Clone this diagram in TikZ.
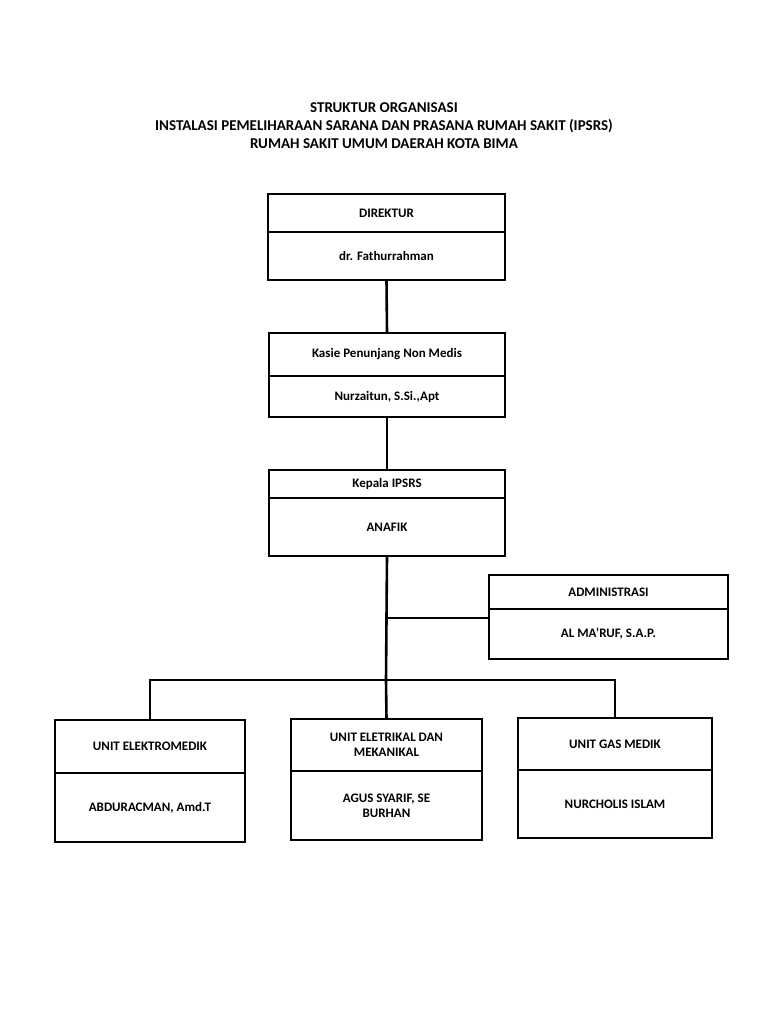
\documentclass[tikz,border=0pt]{standalone}
\usepackage{fontspec}
\setmainfont{Carlito}
\begin{document}
\begin{tikzpicture}[x=1pt,y=-1pt,
  bx/.style={draw,line width=1.6pt},
  ln/.style={line width=2.6pt},
  t/.style={font=\bfseries\fontsize{13}{15}\selectfont,align=center}]
\useasboundingbox (0,0) rectangle (768,1024);
\node[t,font=\bfseries\fontsize{15}{18}\selectfont] (title) at (384,126) {STRUKTUR ORGANISASI\\INSTALASI PEMELIHARAAN SARANA DAN PRASANA RUMAH SAKIT (IPSRS)\\RUMAH SAKIT UMUM DAERAH KOTA BIMA};
% boxes
\newcommand{\ob}[8]{%
 \draw[bx] (#2,#3) rectangle (#4,#5); \draw[bx] (#2,#6)--(#4,#6);
 \coordinate (#1) at ({(#2+#4)/2},#3); \coordinate (#1b) at ({(#2+#4)/2},#5);
 \node[t] (#1t) at ({(#2+#4)/2},{(#3+#6)/2}) {#7};
 \node[t] (#1n) at ({(#2+#4)/2},{(#6+#5)/2}) {#8};}
\ob{d}{268}{194}{505}{280}{232}{DIREKTUR}{dr. Fathurrahman}
\ob{k}{269}{333}{505}{417}{376}{Kasie Penunjang Non Medis}{Nurzaitun, S.Si.,Apt}
\ob{p}{269}{470}{505}{556}{498}{Kepala IPSRS}{ANAFIK}
\ob{a}{489}{575}{728}{659}{609}{ADMINISTRASI}{AL MA'RUF, S.A.P.}
\ob{u}{55}{720}{245}{842}{773}{UNIT ELEKTROMEDIK}{ABDURACMAN, Amd.T}
\ob{v}{291}{719}{482}{840}{771}{UNIT ELETRIKAL DAN\\MEKANIKAL}{AGUS SYARIF, SE\\BURHAN}
\ob{w}{518}{718}{712}{838}{770}{UNIT GAS MEDIK}{NURCHOLIS ISLAM}
\coordinate (ad) at (489,618);
\coordinate (h) at (386,680);
\draw[ln] (db)--(k);
\draw[ln] (kb)--(p);
\draw[ln] (pb)--(h);
\draw[ln] (ad)--(ad-|pb);
\draw[ln] (u)|-(h)-|(w);
\draw[ln] (h)--(v);
\end{tikzpicture}
\end{document}
